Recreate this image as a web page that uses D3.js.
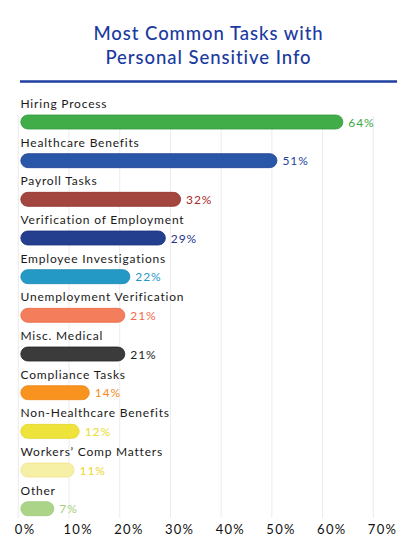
<!DOCTYPE html>
<html>
<head>
<meta charset="utf-8">
<script src="https://cdn.jsdelivr.net/npm/d3@7/dist/d3.min.js"></script>
<style>
  html, body { margin: 0; padding: 0; background: #fff; }
  svg { display: block; }
  text { font-family: Lato, "Open Sans", sans-serif; }
</style>
</head>
<body>
<svg id="chart" width="417" height="558"></svg>
<script>
const titleLines = ["Most Common Tasks with", "Personal Sensitive Info"];
const categories = ["Hiring Process", "Healthcare Benefits", "Payroll Tasks", "Verification of Employment",
  "Employee Investigations", "Unemployment Verification", "Misc. Medical", "Compliance Tasks",
  "Non-Healthcare Benefits", "Workers’ Comp Matters", "Other"];
const values = [64, 51, 32, 29, 22, 21, 21, 14, 12, 11, 7];
const barColors = ["#41ad49", "#2a56a8", "#a2463f", "#253f8f", "#2499c6", "#f47d5b", "#3b3b3b",
  "#f7931e", "#eee33a", "#f6efa6", "#acd488"];
const strokeColors = ["#2f9a3a", "#1d3f94", "#8e2c28", "#17307e", "#1b88b4", "#ee6a45", "#222222",
  "#ee8615", "#e2d52a", "#efe48c", "#9cc877"];
const labelColors = ["#3aa846", "#24439a", "#a82a2a", "#1f3389", "#2596c8", "#f26a45", "#222222",
  "#f48b1f", "#eadb2b", "#eed52a", "#a2ce7c"];
const ticks = [0, 10, 20, 30, 40, 50, 60, 70];

const svg = d3.select("#chart");

// Title
svg.append("g").selectAll("text").data(titleLines).join("text")
  .attr("x", 208.5).attr("y", (d, i) => 40 + i * 23.5)
  .attr("text-anchor", "middle")
  .attr("font-size", 18.5).attr("font-weight", 500)
  .attr("letter-spacing", 0.95)
  .attr("fill", "#1a3aa0")
  .text(d => d);

svg.append("line").attr("x1", 20).attr("x2", 397).attr("y1", 81.5).attr("y2", 81.5)
  .attr("stroke", "#1f3fa0").attr("stroke-width", 2.5);

const x = d3.scaleLinear().domain([0, 70]).range([18.3, 373.3]);
const y = d3.scalePoint().domain(categories).range([122, 508.7]);
const barH = 14;

// gridlines
svg.append("g").selectAll("line").data(ticks).join("line")
  .attr("x1", d => x(d)).attr("x2", d => x(d))
  .attr("y1", 116).attr("y2", 518)
  .attr("stroke", "#ececec").attr("stroke-width", 1);

// tick labels
svg.append("g").selectAll("text").data(ticks).join("text")
  .attr("x", d => x(d) - (d === 0 ? 3.5 : 5.5))
  .attr("y", 534)
  .attr("font-size", 13).attr("letter-spacing", 1.3)
  .attr("fill", "#111")
  .text(d => d + "%");

const rows = svg.append("g").selectAll("g").data(categories).join("g");

rows.append("text")
  .attr("x", 20.5).attr("y", d => y(d) - 14)
  .attr("font-size", 12).attr("letter-spacing", 0.8)
  .attr("fill", "#1a1a1a")
  .text(d => d);

rows.append("rect")
  .attr("x", x(0) + 2.5)
  .attr("y", d => y(d) - barH / 2)
  .attr("width", (d, i) => x(values[i]) - x(0) - 2.5)
  .attr("height", barH)
  .attr("rx", 7).attr("ry", 7)
  .attr("fill", (d, i) => barColors[i])
  .attr("stroke", (d, i) => strokeColors[i])
  .attr("stroke-width", 0.8);

rows.append("text")
  .attr("x", (d, i) => x(values[i]) + 5.5)
  .attr("y", d => y(d) + 4.5)
  .attr("font-size", 12).attr("letter-spacing", 0.9)
  .attr("fill", (d, i) => labelColors[i])
  .text((d, i) => values[i] + "%");
</script>
</body>
</html>
